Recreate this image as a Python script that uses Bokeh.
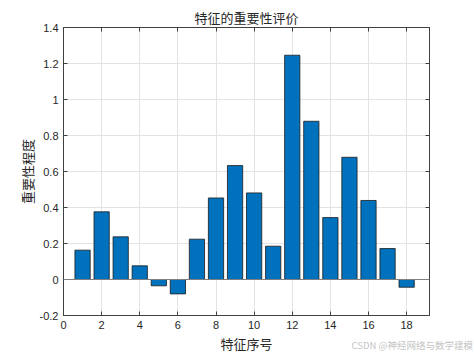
from bokeh.plotting import figure
from bokeh.models import (ColumnDataSource, FixedTicker, CustomJSTickFormatter, Span,
                          LinearAxis, Title, Range1d)
from bokeh.embed import file_html
from bokeh.resources import INLINE

features = list(range(1, 19))
importance = [0.163, 0.376, 0.237, 0.076, -0.035, -0.080, 0.224, 0.453, 0.633,
              0.481, 0.185, 1.246, 0.879, 0.344, 0.679, 0.439, 0.172, -0.043]
x_ticks = [0, 2, 4, 6, 8, 10, 12, 14, 16, 18]
y_ticks = [-0.2, 0, 0.2, 0.4, 0.6, 0.8, 1.0, 1.2, 1.4]

title_text = "特征的重要性评价"
x_label = "特征序号"
y_label = "重要性程度"
watermark = "CSDN @神经网络与数学建模"

CJK = "Noto Sans CJK SC"
NUM = "Liberation Sans"
AX = "#404040"
TXT = "#262626"

src = ColumnDataSource(dict(x=features, top=importance))

p = figure(width=474, height=355, output_backend="svg", toolbar_location=None,
           x_range=Range1d(0, 19.2), y_range=Range1d(-0.2, 1.4))
p.min_border_left = 63
p.min_border_right = 45
p.min_border_top = 27
p.min_border_bottom = 40

p.title.text = title_text
p.title.align = "center"
p.title.text_font = CJK
p.title.text_font_size = "13px"
p.title.text_font_style = "normal"
p.title.text_color = TXT
p.title.offset = 0
p.title.standoff = 2

p.vbar(x="x", top="top", bottom=0, width=0.8, source=src,
       fill_color="#0072BD", line_color="#1a1a1a", line_width=0.8)

p.add_layout(Span(location=0, dimension="width", line_color="#7f7f7f", line_width=1))

fmt = CustomJSTickFormatter(code="return String(Number(tick.toFixed(2)));")
blank = CustomJSTickFormatter(code="return '';")

for ax in (p.xaxis[0], p.yaxis[0]):
    ax.major_tick_in = 4
    ax.major_tick_out = 0
    ax.minor_tick_in = 0
    ax.minor_tick_out = 0
    ax.axis_line_color = AX
    ax.major_tick_line_color = AX
    ax.major_label_text_font = NUM
    ax.major_label_text_font_size = "11px"
    ax.major_label_text_color = TXT
    ax.axis_label_text_font = CJK
    ax.axis_label_text_font_size = "13px"
    ax.axis_label_text_font_style = "normal"
    ax.axis_label_text_color = TXT
    ax.formatter = fmt

p.xaxis[0].ticker = FixedTicker(ticks=x_ticks)
p.yaxis[0].ticker = FixedTicker(ticks=y_ticks)
p.xaxis[0].axis_label = x_label
p.yaxis[0].axis_label = y_label
p.xaxis[0].major_label_standoff = 5
p.xaxis[0].axis_label_standoff = 2
p.yaxis[0].major_label_standoff = 5
p.yaxis[0].axis_label_standoff = 0

for loc, tk in (("right", y_ticks), ("above", x_ticks)):
    a = LinearAxis(ticker=FixedTicker(ticks=tk), formatter=blank,
                   major_tick_in=4, major_tick_out=0, minor_tick_in=0, minor_tick_out=0,
                   axis_line_color=AX, major_tick_line_color=AX, major_label_standoff=0)
    p.add_layout(a, loc)

p.xgrid.ticker = FixedTicker(ticks=x_ticks)
p.ygrid.ticker = FixedTicker(ticks=y_ticks)
p.grid.grid_line_color = "#e3e3e3"
p.grid.grid_line_width = 1
p.outline_line_color = AX

p.add_layout(Title(text=watermark, align="left", offset=288, standoff=-36,
                   vertical_align="top",
                   text_font=CJK, text_font_size="9.5px", text_color="#c4c4c4",
                   text_font_style="normal"), "below")

open("out.html", "w").write(file_html(p, INLINE))
